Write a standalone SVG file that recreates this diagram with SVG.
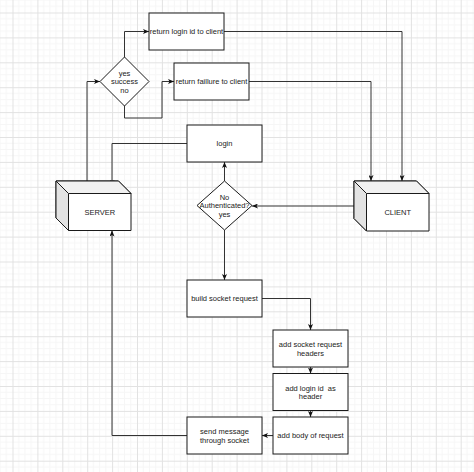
<svg xmlns="http://www.w3.org/2000/svg" width="474" height="472" viewBox="0 0 474 472">
<style>
.box{fill:#fff;stroke:#1a1a1a;stroke-width:1}
.t{font-family:"Liberation Sans",Arial,sans-serif;font-size:7.5px;fill:#222;text-anchor:middle}
.c{fill:none;stroke:#333;stroke-width:1}
.side{fill:#e3e3e3;stroke:#1a1a1a;stroke-width:1}
.top{fill:#f1f1f1;stroke:#1a1a1a;stroke-width:1}
</style>
<defs>
<pattern id="grid" x="12.5" y="12.5" width="24.9" height="24.9" patternUnits="userSpaceOnUse">
<path d="M6.225 0V24.9M12.45 0V24.9M18.675 0V24.9M0 6.225H24.9M0 12.45H24.9M0 18.675H24.9" stroke="#f6f6f6" stroke-width="1" fill="none"/>
<path d="M0.5 0V24.9M0 0.5H24.9" stroke="#e2e2e2" stroke-width="1" fill="none"/>
</pattern>
<marker id="arr" viewBox="0 0 6 5" refX="6" refY="2.5" markerWidth="6" markerHeight="5" markerUnits="userSpaceOnUse" orient="auto">
<path d="M0 0L6 2.5L0 5L1.5 2.5Z" fill="#111"/>
</marker>
</defs>
<rect width="474" height="472" fill="#fff"/>
<rect width="474" height="472" fill="url(#grid)"/>

<g id="connectors" class="c">
<path class="c" d="M87 181V81.5H100" marker-end="url(#arr)"/>
<path class="c" d="M124.5 57V31.5H149" marker-end="url(#arr)"/>
<path class="c" d="M124.5 106V118H162V81.5H174" marker-end="url(#arr)"/>
<path class="c" d="M224 31.5H402V181" marker-end="url(#arr)"/>
<path class="c" d="M249 81.5H371V181" marker-end="url(#arr)"/>
<path class="c" d="M354 206H252" marker-end="url(#arr)"/>
<path class="c" d="M224.5 181V162" marker-end="url(#arr)"/>
<path class="c" d="M187 143.5H112V186" marker-end="url(#arr)"/>
<path class="c" d="M224.5 230V280" marker-end="url(#arr)"/>
<path class="c" d="M262 298.5H310.5V330" marker-end="url(#arr)"/>
<path class="c" d="M310.5 367V373.5" marker-end="url(#arr)"/>
<path class="c" d="M310.5 410.5V417" marker-end="url(#arr)"/>
<path class="c" d="M273 435.5H262" marker-end="url(#arr)"/>
<path class="c" d="M187 435.5H112V230.5" marker-end="url(#arr)"/>
</g>

<g id="return-login-id">
<rect class="box" x="149" y="13" width="75" height="37"/>
<text class="t" x="186.5" y="34.2">return login id to client</text>
</g>
<g id="return-failure">
<rect class="box" x="174" y="63" width="75" height="37"/>
<text class="t" x="211.5" y="84.2">return faillure to client</text>
</g>
<g id="success-decision">
<polygon class="box" points="124.5,57 149,81.5 124.5,106 100,81.5"/>
<text class="t" x="124.5" y="75.7">yes</text>
<text class="t" x="124.5" y="84.2">success</text>
<text class="t" x="124.5" y="92.7">no</text>
</g>
<g id="login">
<rect class="box" x="187" y="125" width="75" height="37"/>
<text class="t" x="224.5" y="146.2">login</text>
</g>
<g id="auth-decision">
<polygon class="box" points="224.5,181 252,205.5 224.5,230 197,205.5"/>
<text class="t" x="224.5" y="199.7">No</text>
<text class="t" x="224.5" y="208.2">Authenticated?</text>
<text class="t" x="224.5" y="216.7">yes</text>
</g>
<g id="server">
<polygon class="box" points="56,181 118.5,181 131,193.5 131,230.5 68.5,230.5 56,218"/>
<polygon class="top" points="56,181 118.5,181 131,193.5 68.5,193.5"/>
<polygon class="side" points="56,181 68.5,193.5 68.5,230.5 56,218"/>
<text class="t" x="99.75" y="214.7">SERVER</text>
</g>
<g id="client">
<polygon class="box" points="354,181 416.5,181 429,193.5 429,231 366.5,231 354,218.5"/>
<polygon class="top" points="354,181 416.5,181 429,193.5 366.5,193.5"/>
<polygon class="side" points="354,181 366.5,193.5 366.5,231 354,218.5"/>
<text class="t" x="397.75" y="214.9">CLIENT</text>
</g>
<g id="build-socket-request">
<rect class="box" x="187" y="280" width="75" height="37"/>
<text class="t" x="224.5" y="301.2">build socket request</text>
</g>
<g id="add-headers">
<rect class="box" x="273" y="330" width="75" height="37"/>
<text class="t" x="310.5" y="347">add socket request</text>
<text class="t" x="310.5" y="355.5">headers</text>
</g>
<g id="add-login-id">
<rect class="box" x="273" y="373.5" width="75" height="37"/>
<text class="t" x="310.5" y="390.5" xml:space="preserve">add login id  as</text>
<text class="t" x="310.5" y="399">header</text>
</g>
<g id="add-body">
<rect class="box" x="273" y="417" width="75" height="37"/>
<text class="t" x="310.5" y="438.2">add body of request</text>
</g>
<g id="send-message">
<rect class="box" x="187" y="417" width="75" height="37"/>
<text class="t" x="224.5" y="434">send message</text>
<text class="t" x="224.5" y="442.5">through socket</text>
</g>
</svg>
